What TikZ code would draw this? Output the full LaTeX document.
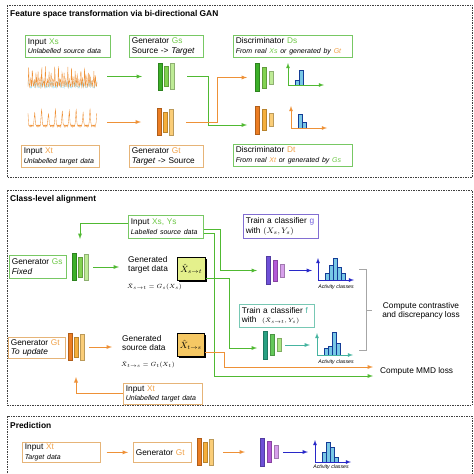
\documentclass[tikz,border=0pt]{standalone}
\usepackage{fontspec}
\setmainfont{Liberation Sans}
\usetikzlibrary{calc,positioning,arrows,shadows}

\definecolor{grn}{RGB}{80,185,50}
\definecolor{org}{RGB}{238,145,55}
\definecolor{navyc}{RGB}{40,40,200}
\definecolor{tealc}{RGB}{70,180,160}
\definecolor{grntxt}{RGB}{110,200,70}
\definecolor{orgtxt}{RGB}{240,160,70}
\definecolor{purtxt}{RGB}{110,90,220}
\definecolor{grnbox}{RGB}{120,200,100}
\definecolor{orgbox}{RGB}{230,180,120}
\definecolor{purbox}{RGB}{130,110,210}
\definecolor{tealbox}{RGB}{120,200,180}
\definecolor{gA}{RGB}{60,175,40}
\definecolor{gB}{RGB}{130,210,80}
\definecolor{gC}{RGB}{190,235,150}
\definecolor{oA}{RGB}{235,125,35}
\definecolor{oB}{RGB}{245,175,60}
\definecolor{oC}{RGB}{250,205,120}
\definecolor{pA}{RGB}{110,80,215}
\definecolor{pB}{RGB}{180,90,215}
\definecolor{pC}{RGB}{215,160,235}
\definecolor{tA}{RGB}{40,160,130}
\definecolor{tB}{RGB}{100,200,90}
\definecolor{tC}{RGB}{170,230,130}
\definecolor{histline}{RGB}{20,60,150}
\definecolor{histfill}{RGB}{120,200,230}
\definecolor{ylgrn}{RGB}{228,240,140}
\definecolor{ylorg}{RGB}{245,200,100}

\newcommand{\fsmain}{\fontsize{8.3}{9.6}\selectfont}
\newcommand{\fssub}{\fontsize{7}{8}\selectfont\itshape}
\newcommand{\fsform}{\fontsize{6}{7}\selectfont}
\newcommand{\cg}[1]{\textcolor{grntxt}{#1}}
\newcommand{\co}[1]{\textcolor{orgtxt}{#1}}

\tikzset{
    panelbox/.style={
        draw=black!75,
        dash pattern=on 1.5pt off 1pt,
        line width=0.6pt,
    },
    ttl/.style={
        anchor=west,
        inner sep=0pt,
        font=\fontsize{8.4}{10}\selectfont\bfseries,
    },
    tbox/.style={
        draw=#1,
        line width=0.7pt,
        fill=white,
        anchor=north west,
        align=left,
        inner xsep=2.5pt,
        inner ysep=0pt,
        minimum height=22pt,
        font=\fsmain,
    },
    vbar/.style={
        draw=#1!75!black,
        fill=#1,
        line width=0.3pt,
        minimum width=4pt,
        inner sep=0pt,
        outer sep=0pt,
    },
    hbar/.style={draw=histline, fill=histfill, line width=0.4pt},
    haxis/.style={draw=#1, line width=0.8pt, -latex},
    xhat/.style={
        draw=black,
        line width=0.5pt,
        anchor=north west,
        inner sep=1pt,
        font=\fontsize{9}{10}\selectfont,
        drop shadow={shadow xshift=1.6pt, shadow yshift=-1.6pt, fill=black, opacity=1},
    },
    plain/.style={anchor=west, align=left, inner sep=0pt, font=\fsmain},
    actlabel/.style={inner sep=0pt, font=\fontsize{5.2}{6}\selectfont\itshape},
    garr/.style={draw=grn, line width=0.9pt, -latex},
    oarr/.style={draw=org, line width=0.9pt, -latex},
    narr/.style={draw=navyc, line width=0.9pt, -latex},
    tarr/.style={draw=tealc, line width=0.9pt, -latex},
    brk/.style={draw=black!35, line width=0.5pt},
}

\newcommand{\genbars}[6]{%
    \node[vbar=#4, minimum height=27pt] (#1a) at (#2,#3) {};
    \node[vbar=#5, minimum height=20pt, right=2pt of #1a] (#1b) {};
    \node[vbar=#6, minimum height=26pt, right=2pt of #1b] (#1c) {};
}
\newcommand{\clsbars}[6]{%
    \node[vbar=#4, minimum height=28pt] (#1a) at (#2,#3) {};
    \node[vbar=#5, minimum height=21pt, right=3pt of #1a] (#1b) {};
    \node[vbar=#6, minimum height=13pt, right=3pt of #1b] (#1c) {};
}
\newcommand{\hist}[5]{%
    \coordinate (#1) at (#2,#3);
    \foreach \h [count=\i] in {#5}
        \draw[hbar] ($(#1)+(4*\i+3,0)$) rectangle ++(4,-\h);
    \draw[haxis=#4] (#1) -- ++(0,-22);
    \draw[haxis=#4] (#1) -- ++(36,0);
}

\begin{document}
\begin{tikzpicture}[x=1pt, y=-1pt]
    \path[use as bounding box] (0,0) rectangle (474,474);
    \clip (0,0) rectangle (474,474);

    % panels
    \draw[panelbox] (7,5) rectangle (472,177);
    \draw[panelbox] (7,190) rectangle (472,405);
    \draw[panelbox] (7,416) rectangle (472,490);
    \node[ttl] (t1) at (10,14) {Feature space transformation via bi-directional GAN};
    \node[ttl] (t2) at (10,199) {Class-level alignment};
    \node[ttl] (t3) at (10,425) {Prediction};

    % --- bi-directional GAN
    \node[tbox=grnbox, text width=80pt] (xs) at (25,35) {Input \cg{Xs}\\\fssub Unlabelled source data};
    \node[tbox=grnbox, text width=69pt] (gsbox) at (129,35) {Generator \cg{Gs}\\Source -> \textit{Target}};
    \node[tbox=grnbox, text width=114pt] (dsbox) at (233,35) {Discriminator \cg{Ds}\\\fssub From real \cg{Xs} or generated by \co{Gt}};
    \node[tbox=orgbox, text width=73pt] (xt) at (21,145) {Input \co{Xt}\\\fssub Unlabelled target data};
    \node[tbox=orgbox, text width=69pt] (gtbox) at (129,145) {Generator \co{Gt}\\\textit{Target} -> Source};
    \node[tbox=grnbox, text width=114pt] (dtbox) at (233,144) {Discriminator \co{Dt}\\\fssub From real \co{Xt} or generated by \cg{Gs}};

    \node[anchor=north west, inner sep=0pt, minimum width=69pt, minimum height=27pt] (sigS) at (28,63) {};
    \draw[cyan!35, line width=0.3pt] plot[domain=28:97, samples=120]
        (\x, {88 - 9*abs(sin(23*\x))*abs(sin(131*\x))^2});
    \draw[org, line width=0.35pt] plot[domain=28:97, samples=200]
        (\x, {88 - 1 - (5 + 17*abs(sin(41*\x+20))*abs(cos(151*\x)))*abs(sin(97*\x))^2});
    \node[anchor=north west, inner sep=0pt, minimum width=69pt, minimum height=20pt] (sigT) at (28,108) {};
    \draw[org, line width=0.35pt] plot[domain=28:97, samples=260]
        (\x, {127 - 2*abs(sin(157*\x)) - (11 + 5*abs(sin(37*\x)))*abs(cos(26*\x))^20});

    \genbars{gs}{160}{76.5}{gA}{gB}{gC}
    \genbars{gt}{159}{122}{oA}{oB}{oC}
    \clsbars{ds}{257}{77.5}{gA}{gB}{gC}
    \clsbars{dt}{257}{120}{oA}{oB}{oC}
    \hist{dshist}{288}{85}{grn}{5,15}
    \hist{dthist}{291}{128}{org}{14,6}

    \draw[garr, shorten <=10pt, shorten >=16pt] (sigS.east |- gsa) -- (gsa);
    \draw[oarr, shorten <=10pt, shorten >=16pt] (sigT.east |- gta) -- (gta);
    \draw[garr] ($(gsc.east)+(13,0)$) -- ++(21,0) |- ($(dta.west)+(-8,5)$);
    \draw[oarr] ($(gtc.east)+(13,0)$) -- ++(31,0) |- ($(dsa.west)+(-8,0)$);

    % --- class-level alignment
    \node[tbox=grnbox, text width=70pt, minimum height=23pt] (xsys) at (128,215) {Input \cg{Xs, Ys}\\\fssub Labelled source data};
    \node[tbox=grnbox, text width=52pt, minimum height=23pt] (gsFbox) at (9,255) {Generator \cg{Gs}\\\itshape Fixed};
    \node[tbox=purbox, text width=70pt, minimum height=24pt] (gbox) at (243,214) {Train a classifier \textcolor{purtxt}{g}\\with $(X_s, Y_s)$};
    \node[tbox=tealbox, text width=70pt, minimum height=23pt] (fbox) at (239,304) {Train a classifier \textcolor{tealc}{f}\\with\ \ {\fsform$(\hat{X}_{s\to t}, Y_s)$}};
    \node[tbox=orgbox, text width=52pt, minimum height=21pt] (gtUbox) at (8,337) {Generator \co{Gt}\\\itshape To update};
    \node[tbox=orgbox, text width=74pt, minimum height=21pt] (xt2) at (123,383) {Input \co{Xt}\\\fssub Unlabelled target data};

    \genbars{gsF}{74}{267}{gA}{gB}{gC}
    \genbars{gtU}{70}{347}{oA}{oB}{oC}
    \clsbars{cg}{268}{270.5}{pA}{pB}{pC}
    \clsbars{cf}{265}{345}{tA}{tB}{tC}
    \hist{ghist}{318}{280}{navyc}{7,15,22,13,7}
    \hist{fhist}{317}{355}{tealc}{7,9,23,12}
    \node[actlabel] (act1) at (336,287) {Activity classes};
    \node[actlabel] (act2) at (336,362) {Activity classes};

    \node[plain] (gst) at (128,265) {Generated\\target data};
    \node[anchor=north west, inner sep=0pt, font=\fsform] (fst) at (127,283) {$\hat{X}_{s\to t} = G_s(X_s)$};
    \node[xhat, fill=ylgrn, minimum width=28pt, minimum height=23pt] (xst) at (177,257) {$\hat{X}_{s\to t}$};
    \node[plain] (gss) at (122,343) {Generated\\source data};
    \node[anchor=north west, inner sep=0pt, font=\fsform] (fts) at (121,361) {$\hat{X}_{t\to s} = G_t(X_t)$};
    \node[xhat, fill=ylorg, minimum width=27pt, minimum height=23pt] (xts) at (177,333) {$\hat{X}_{t\to s}$};

    \node[plain, align=center, anchor=center] (closs) at (421,311) {Compute contrastive\\and discrepancy loss};
    \node[plain] (mmd) at (380,371) {Compute MMD loss};
    \draw[brk] (359,269) -| (366,350) -- (359,350);
    \draw[brk] (366,310) -- ++(6,0);

    \draw[garr, shorten >=18pt] ($(xsys.west)+(0,-3)$) -| (gsFb.north);
    \draw[garr, shorten <=5pt, shorten >=9pt] (gsFc.east) -- (gst.west |- gsFc.east);
    \draw[garr] ($(xsys.east)+(0,2.5)$) -- ++(17,0) |- ($(cga.west)+(-9,0)$);
    \draw[garr] ($(xsys.east)+(0,6.5)$) -- ++(11,0) |- ($(mmd.west)+(-7,5)$);
    \draw[garr] ($(xst.east)+(0,10)$) -- ++(24,0) |- ($(cfa.west)+(-6,3)$);
    \draw[narr, shorten <=5pt, shorten >=6pt] (cgc.east) -- (cgc.east -| ghist);
    \draw[tarr, shorten <=4pt, shorten >=7pt] (cfc.east) -- (cfc.east -| fhist);
    \draw[oarr, shorten <=5pt, shorten >=10pt] (gtUc.east) -- (gss.west |- gtUc.east);
    \draw[oarr] ($(xts.east)+(0,8)$) -- ++(20,0) |- ($(mmd.west)+(-7,-4)$);
    \draw[oarr, shorten >=20pt] (xt2.west) -| (gtUb.south);

    % --- prediction
    \node[tbox=orgbox, text width=73pt, minimum height=20pt] (xt3) at (22,442) {Input \co{Xt}\\\fssub Target data};
    \node[tbox=orgbox, text width=53pt, minimum height=20pt] (gt3box) at (133,442) {Generator \co{Gt}};
    \genbars{gtP}{199}{452}{oA}{oB}{oC}
    \clsbars{cp}{262}{452}{pA}{pB}{pC}
    \hist{phist}{315}{462}{navyc}{10,20,15,5}
    \node[actlabel] (act3) at (331,467) {Activity classes};

    \draw[oarr, shorten <=6pt, shorten >=5pt] (xt3) -- (gt3box);
    \draw[oarr, shorten <=10pt, shorten >=15pt] (gtPc.east) -- (cpa.west);
    \draw[narr, shorten <=5pt, shorten >=7pt] (cpc.east) -- (cpc.east -| phist);
\end{tikzpicture}
\end{document}
